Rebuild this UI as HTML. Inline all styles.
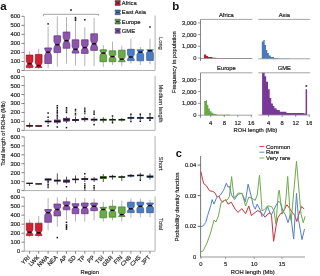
<!DOCTYPE html>
<html><head><meta charset="utf-8"><style>
html,body{margin:0;padding:0;background:#fff;}
svg{display:block;font-family:"Liberation Sans", sans-serif;will-change:transform;}
</style></head><body>
<svg width="312" height="276" viewBox="0 0 312 276">
<rect width="312" height="276" fill="#fff"/>
<text x="0.2" y="9.6" font-size="11.5" text-anchor="start" font-weight="bold" fill="#111" >a</text>
<line x1="24.3" y1="16.32" x2="24.3" y2="70.50" stroke="#a0a0a0" stroke-width="0.9"/>
<polyline points="24.3,70.50 155.1,70.50 155.1,15.52" fill="none" stroke="#a8a8a8" stroke-width="0.9"/>
<line x1="21.4" y1="70.50" x2="24.3" y2="70.50" stroke="#555" stroke-width="0.7"/>
<text x="20.2" y="72.50" font-size="5.8" text-anchor="end" font-weight="normal" fill="#262626" stroke="#262626" stroke-width="0.18" >0</text>
<line x1="21.4" y1="61.47" x2="24.3" y2="61.47" stroke="#555" stroke-width="0.7"/>
<text x="20.2" y="63.47" font-size="5.8" text-anchor="end" font-weight="normal" fill="#262626" stroke="#262626" stroke-width="0.18" >100</text>
<line x1="21.4" y1="52.44" x2="24.3" y2="52.44" stroke="#555" stroke-width="0.7"/>
<text x="20.2" y="54.44" font-size="5.8" text-anchor="end" font-weight="normal" fill="#262626" stroke="#262626" stroke-width="0.18" >200</text>
<line x1="21.4" y1="43.41" x2="24.3" y2="43.41" stroke="#555" stroke-width="0.7"/>
<text x="20.2" y="45.41" font-size="5.8" text-anchor="end" font-weight="normal" fill="#262626" stroke="#262626" stroke-width="0.18" >300</text>
<line x1="21.4" y1="34.38" x2="24.3" y2="34.38" stroke="#555" stroke-width="0.7"/>
<text x="20.2" y="36.38" font-size="5.8" text-anchor="end" font-weight="normal" fill="#262626" stroke="#262626" stroke-width="0.18" >400</text>
<line x1="21.4" y1="25.35" x2="24.3" y2="25.35" stroke="#555" stroke-width="0.7"/>
<text x="20.2" y="27.35" font-size="5.8" text-anchor="end" font-weight="normal" fill="#262626" stroke="#262626" stroke-width="0.18" >500</text>
<line x1="21.4" y1="16.32" x2="24.3" y2="16.32" stroke="#555" stroke-width="0.7"/>
<text x="20.2" y="18.32" font-size="5.8" text-anchor="end" font-weight="normal" fill="#262626" stroke="#262626" stroke-width="0.18" >600</text>
<text x="158.6" y="43.41" font-size="5.8" text-anchor="middle" font-weight="normal" fill="#444" stroke="#444" stroke-width="0.18" transform="rotate(90 158.6 43.41)">Long</text>
<line x1="24.3" y1="76.58" x2="24.3" y2="130.40" stroke="#a0a0a0" stroke-width="0.9"/>
<polyline points="24.3,130.40 155.1,130.40 155.1,75.78" fill="none" stroke="#a8a8a8" stroke-width="0.9"/>
<line x1="21.4" y1="130.40" x2="24.3" y2="130.40" stroke="#555" stroke-width="0.7"/>
<text x="20.2" y="132.40" font-size="5.8" text-anchor="end" font-weight="normal" fill="#262626" stroke="#262626" stroke-width="0.18" >0</text>
<line x1="21.4" y1="121.43" x2="24.3" y2="121.43" stroke="#555" stroke-width="0.7"/>
<text x="20.2" y="123.43" font-size="5.8" text-anchor="end" font-weight="normal" fill="#262626" stroke="#262626" stroke-width="0.18" >100</text>
<line x1="21.4" y1="112.46" x2="24.3" y2="112.46" stroke="#555" stroke-width="0.7"/>
<text x="20.2" y="114.46" font-size="5.8" text-anchor="end" font-weight="normal" fill="#262626" stroke="#262626" stroke-width="0.18" >200</text>
<line x1="21.4" y1="103.49" x2="24.3" y2="103.49" stroke="#555" stroke-width="0.7"/>
<text x="20.2" y="105.49" font-size="5.8" text-anchor="end" font-weight="normal" fill="#262626" stroke="#262626" stroke-width="0.18" >300</text>
<line x1="21.4" y1="94.52" x2="24.3" y2="94.52" stroke="#555" stroke-width="0.7"/>
<text x="20.2" y="96.52" font-size="5.8" text-anchor="end" font-weight="normal" fill="#262626" stroke="#262626" stroke-width="0.18" >400</text>
<line x1="21.4" y1="85.55" x2="24.3" y2="85.55" stroke="#555" stroke-width="0.7"/>
<text x="20.2" y="87.55" font-size="5.8" text-anchor="end" font-weight="normal" fill="#262626" stroke="#262626" stroke-width="0.18" >500</text>
<line x1="21.4" y1="76.58" x2="24.3" y2="76.58" stroke="#555" stroke-width="0.7"/>
<text x="20.2" y="78.58" font-size="5.8" text-anchor="end" font-weight="normal" fill="#262626" stroke="#262626" stroke-width="0.18" >600</text>
<text x="158.6" y="103.49" font-size="5.8" text-anchor="middle" font-weight="normal" fill="#444" stroke="#444" stroke-width="0.18" transform="rotate(90 158.6 103.49)">Medium length</text>
<line x1="24.3" y1="136.90" x2="24.3" y2="190.60" stroke="#a0a0a0" stroke-width="0.9"/>
<polyline points="24.3,190.60 155.1,190.60 155.1,136.10" fill="none" stroke="#a8a8a8" stroke-width="0.9"/>
<line x1="21.4" y1="190.60" x2="24.3" y2="190.60" stroke="#555" stroke-width="0.7"/>
<text x="20.2" y="192.60" font-size="5.8" text-anchor="end" font-weight="normal" fill="#262626" stroke="#262626" stroke-width="0.18" >0</text>
<line x1="21.4" y1="181.65" x2="24.3" y2="181.65" stroke="#555" stroke-width="0.7"/>
<text x="20.2" y="183.65" font-size="5.8" text-anchor="end" font-weight="normal" fill="#262626" stroke="#262626" stroke-width="0.18" >100</text>
<line x1="21.4" y1="172.70" x2="24.3" y2="172.70" stroke="#555" stroke-width="0.7"/>
<text x="20.2" y="174.70" font-size="5.8" text-anchor="end" font-weight="normal" fill="#262626" stroke="#262626" stroke-width="0.18" >200</text>
<line x1="21.4" y1="163.75" x2="24.3" y2="163.75" stroke="#555" stroke-width="0.7"/>
<text x="20.2" y="165.75" font-size="5.8" text-anchor="end" font-weight="normal" fill="#262626" stroke="#262626" stroke-width="0.18" >300</text>
<line x1="21.4" y1="154.80" x2="24.3" y2="154.80" stroke="#555" stroke-width="0.7"/>
<text x="20.2" y="156.80" font-size="5.8" text-anchor="end" font-weight="normal" fill="#262626" stroke="#262626" stroke-width="0.18" >400</text>
<line x1="21.4" y1="145.85" x2="24.3" y2="145.85" stroke="#555" stroke-width="0.7"/>
<text x="20.2" y="147.85" font-size="5.8" text-anchor="end" font-weight="normal" fill="#262626" stroke="#262626" stroke-width="0.18" >500</text>
<line x1="21.4" y1="136.90" x2="24.3" y2="136.90" stroke="#555" stroke-width="0.7"/>
<text x="20.2" y="138.90" font-size="5.8" text-anchor="end" font-weight="normal" fill="#262626" stroke="#262626" stroke-width="0.18" >600</text>
<text x="158.6" y="163.75" font-size="5.8" text-anchor="middle" font-weight="normal" fill="#444" stroke="#444" stroke-width="0.18" transform="rotate(90 158.6 163.75)">Short</text>
<line x1="24.3" y1="197.20" x2="24.3" y2="251.20" stroke="#a0a0a0" stroke-width="0.9"/>
<polyline points="24.3,251.20 155.1,251.20 155.1,196.40" fill="none" stroke="#a8a8a8" stroke-width="0.9"/>
<line x1="21.4" y1="251.20" x2="24.3" y2="251.20" stroke="#555" stroke-width="0.7"/>
<text x="20.2" y="253.20" font-size="5.8" text-anchor="end" font-weight="normal" fill="#262626" stroke="#262626" stroke-width="0.18" >0</text>
<line x1="21.4" y1="242.20" x2="24.3" y2="242.20" stroke="#555" stroke-width="0.7"/>
<text x="20.2" y="244.20" font-size="5.8" text-anchor="end" font-weight="normal" fill="#262626" stroke="#262626" stroke-width="0.18" >100</text>
<line x1="21.4" y1="233.20" x2="24.3" y2="233.20" stroke="#555" stroke-width="0.7"/>
<text x="20.2" y="235.20" font-size="5.8" text-anchor="end" font-weight="normal" fill="#262626" stroke="#262626" stroke-width="0.18" >200</text>
<line x1="21.4" y1="224.20" x2="24.3" y2="224.20" stroke="#555" stroke-width="0.7"/>
<text x="20.2" y="226.20" font-size="5.8" text-anchor="end" font-weight="normal" fill="#262626" stroke="#262626" stroke-width="0.18" >300</text>
<line x1="21.4" y1="215.20" x2="24.3" y2="215.20" stroke="#555" stroke-width="0.7"/>
<text x="20.2" y="217.20" font-size="5.8" text-anchor="end" font-weight="normal" fill="#262626" stroke="#262626" stroke-width="0.18" >400</text>
<line x1="21.4" y1="206.20" x2="24.3" y2="206.20" stroke="#555" stroke-width="0.7"/>
<text x="20.2" y="208.20" font-size="5.8" text-anchor="end" font-weight="normal" fill="#262626" stroke="#262626" stroke-width="0.18" >500</text>
<line x1="21.4" y1="197.20" x2="24.3" y2="197.20" stroke="#555" stroke-width="0.7"/>
<text x="20.2" y="199.20" font-size="5.8" text-anchor="end" font-weight="normal" fill="#262626" stroke="#262626" stroke-width="0.18" >600</text>
<text x="158.6" y="224.20" font-size="5.8" text-anchor="middle" font-weight="normal" fill="#444" stroke="#444" stroke-width="0.18" transform="rotate(90 158.6 224.20)">Total</text>
<line x1="29.60" y1="51.30" x2="29.60" y2="68.80" stroke="#b0b0b0" stroke-width="0.95"/>
<polygon points="26.25,55.10 32.95,55.10 32.95,61.20 31.48,63.70 32.95,66.20 32.95,67.60 26.25,67.60 26.25,66.20 27.72,63.70 26.25,61.20" fill="#d02230" stroke="#8e1624" stroke-width="0.7"/>
<line x1="27.72" y1="63.70" x2="31.48" y2="63.70" stroke="#140a14" stroke-width="1.5"/>
<line x1="38.70" y1="48.70" x2="38.70" y2="68.80" stroke="#b0b0b0" stroke-width="0.95"/>
<polygon points="35.35,54.40 42.05,54.40 42.05,62.96 40.58,65.60 42.05,67.60 42.05,67.60 35.35,67.60 35.35,67.60 36.82,65.60 35.35,62.96" fill="#d02230" stroke="#8e1624" stroke-width="0.7"/>
<line x1="36.82" y1="65.60" x2="40.58" y2="65.60" stroke="#140a14" stroke-width="1.5"/>
<line x1="48.10" y1="26.60" x2="48.10" y2="68.20" stroke="#b0b0b0" stroke-width="0.95"/>
<polygon points="44.75,47.90 51.45,47.90 51.45,49.08 49.98,52.20 51.45,55.32 51.45,63.50 44.75,63.50 44.75,55.32 46.22,52.20 44.75,49.08" fill="#8c56ad" stroke="#5e327e" stroke-width="0.7"/>
<line x1="46.22" y1="52.20" x2="49.98" y2="52.20" stroke="#140a14" stroke-width="1.5"/>
<rect x="47.35" y="23.15" width="1.5" height="1.5" fill="#111"/>
<line x1="57.30" y1="16.30" x2="57.30" y2="66.60" stroke="#b0b0b0" stroke-width="0.95"/>
<polygon points="53.95,35.80 60.65,35.80 60.65,41.34 59.18,44.70 60.65,48.06 60.65,52.60 53.95,52.60 53.95,48.06 55.42,44.70 53.95,41.34" fill="#8c56ad" stroke="#5e327e" stroke-width="0.7"/>
<line x1="55.42" y1="44.70" x2="59.18" y2="44.70" stroke="#140a14" stroke-width="1.5"/>
<line x1="66.50" y1="17.00" x2="66.50" y2="63.60" stroke="#b0b0b0" stroke-width="0.95"/>
<polygon points="63.15,32.00 69.85,32.00 69.85,37.44 68.38,40.70 69.85,43.96 69.85,48.30 63.15,48.30 63.15,43.96 64.62,40.70 63.15,37.44" fill="#8c56ad" stroke="#5e327e" stroke-width="0.7"/>
<line x1="64.62" y1="40.70" x2="68.38" y2="40.70" stroke="#140a14" stroke-width="1.5"/>
<line x1="75.50" y1="22.00" x2="75.50" y2="65.60" stroke="#b0b0b0" stroke-width="0.95"/>
<polygon points="72.15,39.80 78.85,39.80 78.85,46.64 77.38,49.30 78.85,51.96 78.85,53.10 72.15,53.10 72.15,51.96 73.62,49.30 72.15,46.64" fill="#8c56ad" stroke="#5e327e" stroke-width="0.7"/>
<line x1="73.62" y1="49.30" x2="77.38" y2="49.30" stroke="#140a14" stroke-width="1.5"/>
<rect x="74.75" y="16.85" width="1.5" height="1.5" fill="#111"/>
<rect x="74.75" y="18.25" width="1.5" height="1.5" fill="#111"/>
<rect x="74.75" y="19.65" width="1.5" height="1.5" fill="#111"/>
<line x1="84.80" y1="27.20" x2="84.80" y2="66.20" stroke="#b0b0b0" stroke-width="0.95"/>
<polygon points="81.45,39.80 88.15,39.80 88.15,44.88 86.68,47.60 88.15,50.32 88.15,53.40 81.45,53.40 81.45,50.32 82.92,47.60 81.45,44.88" fill="#8c56ad" stroke="#5e327e" stroke-width="0.7"/>
<line x1="82.92" y1="47.60" x2="86.68" y2="47.60" stroke="#140a14" stroke-width="1.5"/>
<rect x="84.05" y="19.05" width="1.5" height="1.5" fill="#111"/>
<line x1="94.10" y1="18.00" x2="94.10" y2="66.20" stroke="#b0b0b0" stroke-width="0.95"/>
<polygon points="90.75,33.80 97.45,33.80 97.45,40.48 95.98,43.80 97.45,47.12 97.45,50.40 90.75,50.40 90.75,47.12 92.22,43.80 90.75,40.48" fill="#8c56ad" stroke="#5e327e" stroke-width="0.7"/>
<line x1="92.22" y1="43.80" x2="95.98" y2="43.80" stroke="#140a14" stroke-width="1.5"/>
<line x1="103.30" y1="45.00" x2="103.30" y2="66.80" stroke="#b0b0b0" stroke-width="0.95"/>
<polygon points="99.95,49.80 106.65,49.80 106.65,50.72 105.18,53.10 106.65,55.48 106.65,61.70 99.95,61.70 99.95,55.48 101.42,53.10 99.95,50.72" fill="#6cab47" stroke="#437a2a" stroke-width="0.7"/>
<line x1="101.42" y1="53.10" x2="105.18" y2="53.10" stroke="#140a14" stroke-width="1.5"/>
<line x1="112.50" y1="41.60" x2="112.50" y2="64.90" stroke="#b0b0b0" stroke-width="0.95"/>
<polygon points="109.15,50.80 115.85,50.80 115.85,54.42 114.38,56.60 115.85,58.78 115.85,61.70 109.15,61.70 109.15,58.78 110.62,56.60 109.15,54.42" fill="#6cab47" stroke="#437a2a" stroke-width="0.7"/>
<line x1="110.62" y1="56.60" x2="114.38" y2="56.60" stroke="#140a14" stroke-width="1.5"/>
<line x1="121.80" y1="45.70" x2="121.80" y2="66.20" stroke="#b0b0b0" stroke-width="0.95"/>
<polygon points="118.45,50.20 125.15,50.20 125.15,56.90 123.68,59.20 125.15,61.50 125.15,61.70 118.45,61.70 118.45,61.50 119.92,59.20 118.45,56.90" fill="#6cab47" stroke="#437a2a" stroke-width="0.7"/>
<line x1="119.92" y1="59.20" x2="123.68" y2="59.20" stroke="#140a14" stroke-width="1.5"/>
<line x1="130.90" y1="38.60" x2="130.90" y2="63.60" stroke="#b0b0b0" stroke-width="0.95"/>
<polygon points="127.55,49.30 134.25,49.30 134.25,54.74 132.78,57.00 134.25,59.26 134.25,60.60 127.55,60.60 127.55,59.26 129.02,57.00 127.55,54.74" fill="#4c7dc4" stroke="#2e5690" stroke-width="0.7"/>
<line x1="129.02" y1="57.00" x2="132.78" y2="57.00" stroke="#140a14" stroke-width="1.5"/>
<line x1="140.30" y1="47.00" x2="140.30" y2="64.90" stroke="#b0b0b0" stroke-width="0.95"/>
<polygon points="136.95,49.80 143.65,49.80 143.65,49.90 142.18,52.10 143.65,54.30 143.65,60.80 136.95,60.80 136.95,54.30 138.42,52.10 136.95,49.90" fill="#4c7dc4" stroke="#2e5690" stroke-width="0.7"/>
<line x1="138.42" y1="52.10" x2="142.18" y2="52.10" stroke="#140a14" stroke-width="1.5"/>
<line x1="150.00" y1="38.60" x2="150.00" y2="64.30" stroke="#b0b0b0" stroke-width="0.95"/>
<polygon points="146.65,49.80 153.35,49.80 153.35,49.80 151.88,50.80 153.35,52.92 153.35,60.40 146.65,60.40 146.65,52.92 148.12,50.80 146.65,49.80" fill="#4c7dc4" stroke="#2e5690" stroke-width="0.7"/>
<line x1="148.12" y1="50.80" x2="151.88" y2="50.80" stroke="#140a14" stroke-width="1.5"/>
<rect x="149.25" y="26.25" width="1.5" height="1.5" fill="#111"/>
<line x1="29.60" y1="122.70" x2="29.60" y2="127.60" stroke="#2a2a2a" stroke-width="0.8"/>
<rect x="26.20" y="125.10" width="6.80" height="1.50" fill="#80151d"/>
<line x1="26.50" y1="125.80" x2="32.70" y2="125.80" stroke="#111" stroke-width="1.1"/>
<line x1="38.70" y1="125.40" x2="38.70" y2="126.60" stroke="#2a2a2a" stroke-width="0.8"/>
<rect x="35.30" y="125.30" width="6.80" height="1.30" fill="#80151d"/>
<line x1="35.60" y1="126.00" x2="41.80" y2="126.00" stroke="#111" stroke-width="1.1"/>
<line x1="48.10" y1="119.00" x2="48.10" y2="124.00" stroke="#2a2a2a" stroke-width="0.8"/>
<rect x="44.70" y="120.60" width="6.80" height="1.70" fill="#56356b"/>
<line x1="45.00" y1="121.50" x2="51.20" y2="121.50" stroke="#111" stroke-width="1.1"/>
<rect x="47.35" y="112.25" width="1.5" height="1.5" fill="#111"/>
<rect x="47.35" y="116.45" width="1.5" height="1.5" fill="#111"/>
<rect x="47.35" y="125.05" width="1.5" height="1.5" fill="#111"/>
<line x1="57.30" y1="119.00" x2="57.30" y2="124.00" stroke="#2a2a2a" stroke-width="0.8"/>
<rect x="53.90" y="119.60" width="6.80" height="3.10" fill="#56356b"/>
<line x1="54.20" y1="121.30" x2="60.40" y2="121.30" stroke="#111" stroke-width="1.1"/>
<rect x="56.55" y="126.25" width="1.5" height="1.5" fill="#111"/>
<line x1="57.30" y1="105.00" x2="57.30" y2="119.00" stroke="#151515" stroke-width="1.5" stroke-dasharray="1.3 0.35"/>
<line x1="66.50" y1="116.50" x2="66.50" y2="123.00" stroke="#2a2a2a" stroke-width="0.8"/>
<rect x="63.10" y="117.90" width="6.80" height="3.60" fill="#56356b"/>
<line x1="63.40" y1="119.80" x2="69.60" y2="119.80" stroke="#111" stroke-width="1.1"/>
<rect x="65.75" y="126.85" width="1.5" height="1.5" fill="#111"/>
<line x1="66.50" y1="106.90" x2="66.50" y2="113.60" stroke="#151515" stroke-width="1.5" stroke-dasharray="1.3 0.35"/>
<line x1="75.50" y1="116.50" x2="75.50" y2="122.50" stroke="#2a2a2a" stroke-width="0.8"/>
<rect x="72.10" y="119.00" width="6.80" height="2.00" fill="#56356b"/>
<line x1="72.40" y1="120.00" x2="78.60" y2="120.00" stroke="#111" stroke-width="1.1"/>
<line x1="75.50" y1="108.70" x2="75.50" y2="111.50" stroke="#151515" stroke-width="1.5" stroke-dasharray="1.3 0.35"/>
<line x1="75.50" y1="112.70" x2="75.50" y2="115.40" stroke="#151515" stroke-width="1.5" stroke-dasharray="1.3 0.35"/>
<line x1="84.80" y1="116.50" x2="84.80" y2="121.80" stroke="#2a2a2a" stroke-width="0.8"/>
<rect x="81.40" y="118.00" width="6.80" height="2.20" fill="#56356b"/>
<line x1="81.70" y1="119.00" x2="87.90" y2="119.00" stroke="#111" stroke-width="1.1"/>
<line x1="84.80" y1="107.50" x2="84.80" y2="114.20" stroke="#151515" stroke-width="1.5" stroke-dasharray="1.3 0.35"/>
<line x1="94.10" y1="117.00" x2="94.10" y2="122.00" stroke="#2a2a2a" stroke-width="0.8"/>
<rect x="90.70" y="118.70" width="6.80" height="2.00" fill="#56356b"/>
<line x1="91.00" y1="119.70" x2="97.20" y2="119.70" stroke="#111" stroke-width="1.1"/>
<rect x="93.35" y="123.85" width="1.5" height="1.5" fill="#111"/>
<line x1="94.10" y1="110.50" x2="94.10" y2="115.40" stroke="#151515" stroke-width="1.5" stroke-dasharray="1.3 0.35"/>
<line x1="103.30" y1="117.20" x2="103.30" y2="122.70" stroke="#2a2a2a" stroke-width="0.8"/>
<rect x="99.90" y="118.80" width="6.80" height="2.00" fill="#426a2c"/>
<line x1="100.20" y1="119.70" x2="106.40" y2="119.70" stroke="#111" stroke-width="1.1"/>
<line x1="112.50" y1="117.50" x2="112.50" y2="122.00" stroke="#2a2a2a" stroke-width="0.8"/>
<rect x="109.10" y="118.90" width="6.80" height="1.70" fill="#426a2c"/>
<line x1="109.40" y1="119.70" x2="115.60" y2="119.70" stroke="#111" stroke-width="1.1"/>
<rect x="111.75" y="115.25" width="1.5" height="1.5" fill="#111"/>
<rect x="111.75" y="121.95" width="1.5" height="1.5" fill="#111"/>
<line x1="121.80" y1="118.00" x2="121.80" y2="121.50" stroke="#2a2a2a" stroke-width="0.8"/>
<rect x="118.40" y="118.90" width="6.80" height="1.70" fill="#426a2c"/>
<line x1="118.70" y1="119.70" x2="124.90" y2="119.70" stroke="#111" stroke-width="1.1"/>
<line x1="130.90" y1="115.00" x2="130.90" y2="120.50" stroke="#2a2a2a" stroke-width="0.8"/>
<rect x="127.50" y="117.00" width="6.80" height="1.80" fill="#2f4d79"/>
<line x1="127.80" y1="117.90" x2="134.00" y2="117.90" stroke="#111" stroke-width="1.1"/>
<rect x="130.15" y="113.45" width="1.5" height="1.5" fill="#111"/>
<rect x="130.15" y="120.75" width="1.5" height="1.5" fill="#111"/>
<line x1="140.30" y1="115.00" x2="140.30" y2="120.50" stroke="#2a2a2a" stroke-width="0.8"/>
<rect x="136.90" y="117.00" width="6.80" height="1.80" fill="#2f4d79"/>
<line x1="137.20" y1="117.90" x2="143.40" y2="117.90" stroke="#111" stroke-width="1.1"/>
<rect x="139.55" y="113.45" width="1.5" height="1.5" fill="#111"/>
<rect x="139.55" y="120.55" width="1.5" height="1.5" fill="#111"/>
<line x1="150.00" y1="115.00" x2="150.00" y2="120.00" stroke="#2a2a2a" stroke-width="0.8"/>
<rect x="146.60" y="117.00" width="6.80" height="1.80" fill="#2f4d79"/>
<line x1="146.90" y1="117.90" x2="153.10" y2="117.90" stroke="#111" stroke-width="1.1"/>
<rect x="149.25" y="113.25" width="1.5" height="1.5" fill="#111"/>
<rect x="149.25" y="119.55" width="1.5" height="1.5" fill="#111"/>
<line x1="29.60" y1="183.30" x2="29.60" y2="186.00" stroke="#2a2a2a" stroke-width="0.8"/>
<rect x="26.20" y="182.80" width="6.80" height="1.00" fill="#80151d"/>
<line x1="26.50" y1="183.30" x2="32.70" y2="183.30" stroke="#111" stroke-width="1.1"/>
<line x1="38.70" y1="183.90" x2="38.70" y2="184.40" stroke="#2a2a2a" stroke-width="0.8"/>
<rect x="35.30" y="183.40" width="6.80" height="1.00" fill="#80151d"/>
<line x1="35.60" y1="183.90" x2="41.80" y2="183.90" stroke="#111" stroke-width="1.1"/>
<line x1="48.10" y1="179.40" x2="48.10" y2="180.60" stroke="#2a2a2a" stroke-width="0.8"/>
<rect x="44.70" y="178.40" width="6.80" height="2.20" fill="#56356b"/>
<line x1="45.00" y1="179.40" x2="51.20" y2="179.40" stroke="#111" stroke-width="1.1"/>
<line x1="48.10" y1="180.60" x2="48.10" y2="188.20" stroke="#151515" stroke-width="1.5" stroke-dasharray="1.3 0.35"/>
<line x1="57.30" y1="173.50" x2="57.30" y2="184.50" stroke="#2a2a2a" stroke-width="0.8"/>
<rect x="53.90" y="179.60" width="6.80" height="2.00" fill="#56356b"/>
<line x1="54.20" y1="180.60" x2="60.40" y2="180.60" stroke="#111" stroke-width="1.1"/>
<line x1="66.50" y1="176.60" x2="66.50" y2="183.50" stroke="#2a2a2a" stroke-width="0.8"/>
<rect x="63.10" y="179.60" width="6.80" height="3.10" fill="#56356b"/>
<line x1="63.40" y1="181.00" x2="69.60" y2="181.00" stroke="#111" stroke-width="1.1"/>
<rect x="65.75" y="185.95" width="1.5" height="1.5" fill="#111"/>
<line x1="75.50" y1="175.40" x2="75.50" y2="183.30" stroke="#2a2a2a" stroke-width="0.8"/>
<rect x="72.10" y="178.60" width="6.80" height="1.60" fill="#56356b"/>
<line x1="72.40" y1="179.40" x2="78.60" y2="179.40" stroke="#111" stroke-width="1.1"/>
<line x1="84.80" y1="176.00" x2="84.80" y2="182.00" stroke="#2a2a2a" stroke-width="0.8"/>
<rect x="81.40" y="178.10" width="6.80" height="1.90" fill="#56356b"/>
<line x1="81.70" y1="179.00" x2="87.90" y2="179.00" stroke="#111" stroke-width="1.1"/>
<rect x="84.05" y="173.05" width="1.5" height="1.5" fill="#111"/>
<line x1="84.80" y1="183.30" x2="84.80" y2="190.40" stroke="#151515" stroke-width="1.5" stroke-dasharray="1.3 0.35"/>
<line x1="94.10" y1="177.00" x2="94.10" y2="182.00" stroke="#2a2a2a" stroke-width="0.8"/>
<rect x="90.70" y="178.50" width="6.80" height="1.80" fill="#56356b"/>
<line x1="91.00" y1="179.40" x2="97.20" y2="179.40" stroke="#111" stroke-width="1.1"/>
<line x1="94.10" y1="185.00" x2="94.10" y2="190.40" stroke="#151515" stroke-width="1.5" stroke-dasharray="1.3 0.35"/>
<line x1="103.30" y1="174.10" x2="103.30" y2="182.00" stroke="#2a2a2a" stroke-width="0.8"/>
<rect x="99.90" y="176.00" width="6.80" height="3.00" fill="#426a2c"/>
<line x1="100.20" y1="177.50" x2="106.40" y2="177.50" stroke="#111" stroke-width="1.1"/>
<line x1="112.50" y1="174.80" x2="112.50" y2="179.60" stroke="#2a2a2a" stroke-width="0.8"/>
<rect x="109.10" y="175.80" width="6.80" height="1.60" fill="#426a2c"/>
<line x1="109.40" y1="176.60" x2="115.60" y2="176.60" stroke="#111" stroke-width="1.1"/>
<line x1="121.80" y1="175.40" x2="121.80" y2="180.90" stroke="#2a2a2a" stroke-width="0.8"/>
<rect x="118.40" y="176.20" width="6.80" height="1.60" fill="#426a2c"/>
<line x1="118.70" y1="177.00" x2="124.90" y2="177.00" stroke="#111" stroke-width="1.1"/>
<line x1="130.90" y1="174.00" x2="130.90" y2="177.50" stroke="#2a2a2a" stroke-width="0.8"/>
<rect x="127.50" y="174.80" width="6.80" height="1.80" fill="#2f4d79"/>
<line x1="127.80" y1="175.70" x2="134.00" y2="175.70" stroke="#111" stroke-width="1.1"/>
<line x1="140.30" y1="172.90" x2="140.30" y2="179.50" stroke="#2a2a2a" stroke-width="0.8"/>
<rect x="136.90" y="174.60" width="6.80" height="1.60" fill="#2f4d79"/>
<line x1="137.20" y1="175.40" x2="143.40" y2="175.40" stroke="#111" stroke-width="1.1"/>
<rect x="139.55" y="179.45" width="1.5" height="1.5" fill="#111"/>
<line x1="150.00" y1="173.50" x2="150.00" y2="179.60" stroke="#2a2a2a" stroke-width="0.8"/>
<rect x="146.60" y="175.40" width="6.80" height="2.40" fill="#2f4d79"/>
<line x1="146.90" y1="176.60" x2="153.10" y2="176.60" stroke="#111" stroke-width="1.1"/>
<line x1="29.60" y1="219.70" x2="29.60" y2="237.30" stroke="#b0b0b0" stroke-width="0.95"/>
<polygon points="26.25,223.20 32.95,223.20 32.95,229.72 31.48,232.20 32.95,234.68 32.95,235.60 26.25,235.60 26.25,234.68 27.72,232.20 26.25,229.72" fill="#d02230" stroke="#8e1624" stroke-width="0.7"/>
<line x1="27.72" y1="232.20" x2="31.48" y2="232.20" stroke="#140a14" stroke-width="1.5"/>
<line x1="38.70" y1="215.90" x2="38.70" y2="237.30" stroke="#b0b0b0" stroke-width="0.95"/>
<polygon points="35.35,223.20 42.05,223.20 42.05,230.32 40.58,232.80 42.05,235.28 42.05,235.60 35.35,235.60 35.35,235.28 36.82,232.80 35.35,230.32" fill="#d02230" stroke="#8e1624" stroke-width="0.7"/>
<line x1="36.82" y1="232.80" x2="40.58" y2="232.80" stroke="#140a14" stroke-width="1.5"/>
<line x1="48.10" y1="198.00" x2="48.10" y2="230.30" stroke="#b0b0b0" stroke-width="0.95"/>
<polygon points="44.75,209.50 51.45,209.50 51.45,210.14 49.98,212.70 51.45,215.26 51.45,222.30 44.75,222.30 44.75,215.26 46.22,212.70 44.75,210.14" fill="#8c56ad" stroke="#5e327e" stroke-width="0.7"/>
<line x1="46.22" y1="212.70" x2="49.98" y2="212.70" stroke="#140a14" stroke-width="1.5"/>
<line x1="57.30" y1="197.30" x2="57.30" y2="226.80" stroke="#b0b0b0" stroke-width="0.95"/>
<polygon points="53.95,204.00 60.65,204.00 60.65,207.12 59.18,209.50 60.65,211.88 60.65,215.90 53.95,215.90 53.95,211.88 55.42,209.50 53.95,207.12" fill="#8c56ad" stroke="#5e327e" stroke-width="0.7"/>
<line x1="55.42" y1="209.50" x2="59.18" y2="209.50" stroke="#140a14" stroke-width="1.5"/>
<rect x="56.55" y="236.85" width="1.5" height="1.5" fill="#111"/>
<line x1="66.50" y1="197.30" x2="66.50" y2="219.70" stroke="#b0b0b0" stroke-width="0.95"/>
<polygon points="63.15,201.80 69.85,201.80 69.85,203.60 68.38,205.60 69.85,207.60 69.85,209.80 63.15,209.80 63.15,207.60 64.62,205.60 63.15,203.60" fill="#8c56ad" stroke="#5e327e" stroke-width="0.7"/>
<line x1="64.62" y1="205.60" x2="68.38" y2="205.60" stroke="#140a14" stroke-width="1.5"/>
<rect x="65.75" y="221.55" width="1.5" height="1.5" fill="#111"/>
<rect x="65.75" y="224.15" width="1.5" height="1.5" fill="#111"/>
<rect x="65.75" y="225.55" width="1.5" height="1.5" fill="#111"/>
<rect x="65.75" y="226.95" width="1.5" height="1.5" fill="#111"/>
<rect x="65.75" y="228.35" width="1.5" height="1.5" fill="#111"/>
<line x1="75.50" y1="198.00" x2="75.50" y2="221.60" stroke="#b0b0b0" stroke-width="0.95"/>
<polygon points="72.15,203.70 78.85,203.70 78.85,205.30 77.38,207.30 78.85,209.30 78.85,213.70 72.15,213.70 72.15,209.30 73.62,207.30 72.15,205.30" fill="#8c56ad" stroke="#5e327e" stroke-width="0.7"/>
<line x1="73.62" y1="207.30" x2="77.38" y2="207.30" stroke="#140a14" stroke-width="1.5"/>
<line x1="84.80" y1="198.00" x2="84.80" y2="221.60" stroke="#b0b0b0" stroke-width="0.95"/>
<polygon points="81.45,203.00 88.15,203.00 88.15,205.36 86.68,207.50 88.15,209.64 88.15,213.70 81.45,213.70 81.45,209.64 82.92,207.50 81.45,205.36" fill="#8c56ad" stroke="#5e327e" stroke-width="0.7"/>
<line x1="82.92" y1="207.50" x2="86.68" y2="207.50" stroke="#140a14" stroke-width="1.5"/>
<line x1="94.10" y1="198.50" x2="94.10" y2="220.40" stroke="#b0b0b0" stroke-width="0.95"/>
<polygon points="90.75,203.00 97.45,203.00 97.45,204.30 95.98,206.30 97.45,208.30 97.45,210.70 90.75,210.70 90.75,208.30 92.22,206.30 90.75,204.30" fill="#8c56ad" stroke="#5e327e" stroke-width="0.7"/>
<line x1="92.22" y1="206.30" x2="95.98" y2="206.30" stroke="#140a14" stroke-width="1.5"/>
<line x1="103.30" y1="202.20" x2="103.30" y2="221.60" stroke="#b0b0b0" stroke-width="0.95"/>
<polygon points="99.95,207.30 106.65,207.30 106.65,207.40 105.18,209.50 106.65,211.60 106.65,217.80 99.95,217.80 99.95,211.60 101.42,209.50 99.95,207.40" fill="#6cab47" stroke="#437a2a" stroke-width="0.7"/>
<line x1="101.42" y1="209.50" x2="105.18" y2="209.50" stroke="#140a14" stroke-width="1.5"/>
<line x1="112.50" y1="199.80" x2="112.50" y2="220.40" stroke="#b0b0b0" stroke-width="0.95"/>
<polygon points="109.15,206.30 115.85,206.30 115.85,208.22 114.38,210.40 115.85,212.58 115.85,217.20 109.15,217.20 109.15,212.58 110.62,210.40 109.15,208.22" fill="#6cab47" stroke="#437a2a" stroke-width="0.7"/>
<line x1="110.62" y1="210.40" x2="114.38" y2="210.40" stroke="#140a14" stroke-width="1.5"/>
<line x1="121.80" y1="200.50" x2="121.80" y2="221.60" stroke="#b0b0b0" stroke-width="0.95"/>
<polygon points="118.45,206.90 125.15,206.90 125.15,212.60 123.68,214.60 125.15,216.50 125.15,216.50 118.45,216.50 118.45,216.50 119.92,214.60 118.45,212.60" fill="#6cab47" stroke="#437a2a" stroke-width="0.7"/>
<line x1="119.92" y1="214.60" x2="123.68" y2="214.60" stroke="#140a14" stroke-width="1.5"/>
<line x1="130.90" y1="198.60" x2="130.90" y2="217.50" stroke="#b0b0b0" stroke-width="0.95"/>
<polygon points="127.55,202.20 134.25,202.20 134.25,206.72 132.78,208.80 134.25,210.88 134.25,212.60 127.55,212.60 127.55,210.88 129.02,208.80 127.55,206.72" fill="#4c7dc4" stroke="#2e5690" stroke-width="0.7"/>
<line x1="129.02" y1="208.80" x2="132.78" y2="208.80" stroke="#140a14" stroke-width="1.5"/>
<line x1="140.30" y1="198.60" x2="140.30" y2="217.20" stroke="#b0b0b0" stroke-width="0.95"/>
<polygon points="136.95,202.20 143.65,202.20 143.65,204.20 142.18,206.30 143.65,208.40 143.65,212.70 136.95,212.70 136.95,208.40 138.42,206.30 136.95,204.20" fill="#4c7dc4" stroke="#2e5690" stroke-width="0.7"/>
<line x1="138.42" y1="206.30" x2="142.18" y2="206.30" stroke="#140a14" stroke-width="1.5"/>
<line x1="150.00" y1="199.80" x2="150.00" y2="217.20" stroke="#b0b0b0" stroke-width="0.95"/>
<polygon points="146.65,203.00 153.35,203.00 153.35,203.60 151.88,205.60 153.35,207.60 153.35,212.70 146.65,212.70 146.65,207.60 148.12,205.60 146.65,203.60" fill="#4c7dc4" stroke="#2e5690" stroke-width="0.7"/>
<line x1="148.12" y1="205.60" x2="151.88" y2="205.60" stroke="#140a14" stroke-width="1.5"/>
<line x1="29.60" y1="251.2" x2="29.60" y2="253.8" stroke="#555" stroke-width="0.7"/>
<text x="30.40" y="257.80" font-size="5.8" text-anchor="end" font-weight="normal" fill="#262626" stroke="#262626" stroke-width="0.18" transform="rotate(-45 30.40 257.80)">YRI</text>
<line x1="38.70" y1="251.2" x2="38.70" y2="253.8" stroke="#555" stroke-width="0.7"/>
<text x="39.50" y="257.80" font-size="5.8" text-anchor="end" font-weight="normal" fill="#262626" stroke="#262626" stroke-width="0.18" transform="rotate(-45 39.50 257.80)">LWK</text>
<line x1="48.10" y1="251.2" x2="48.10" y2="253.8" stroke="#555" stroke-width="0.7"/>
<text x="48.90" y="257.80" font-size="5.8" text-anchor="end" font-weight="normal" fill="#262626" stroke="#262626" stroke-width="0.18" transform="rotate(-45 48.90 257.80)">NWA</text>
<line x1="57.30" y1="251.2" x2="57.30" y2="253.8" stroke="#555" stroke-width="0.7"/>
<text x="58.10" y="257.80" font-size="5.8" text-anchor="end" font-weight="normal" fill="#262626" stroke="#262626" stroke-width="0.18" transform="rotate(-45 58.10 257.80)">NEA</text>
<line x1="66.50" y1="251.2" x2="66.50" y2="253.8" stroke="#555" stroke-width="0.7"/>
<text x="67.30" y="257.80" font-size="5.8" text-anchor="end" font-weight="normal" fill="#262626" stroke="#262626" stroke-width="0.18" transform="rotate(-45 67.30 257.80)">AP</text>
<line x1="75.50" y1="251.2" x2="75.50" y2="253.8" stroke="#555" stroke-width="0.7"/>
<text x="76.30" y="257.80" font-size="5.8" text-anchor="end" font-weight="normal" fill="#262626" stroke="#262626" stroke-width="0.18" transform="rotate(-45 76.30 257.80)">SD</text>
<line x1="84.80" y1="251.2" x2="84.80" y2="253.8" stroke="#555" stroke-width="0.7"/>
<text x="85.60" y="257.80" font-size="5.8" text-anchor="end" font-weight="normal" fill="#262626" stroke="#262626" stroke-width="0.18" transform="rotate(-45 85.60 257.80)">TP</text>
<line x1="94.10" y1="251.2" x2="94.10" y2="253.8" stroke="#555" stroke-width="0.7"/>
<text x="94.90" y="257.80" font-size="5.8" text-anchor="end" font-weight="normal" fill="#262626" stroke="#262626" stroke-width="0.18" transform="rotate(-45 94.90 257.80)">PP</text>
<line x1="103.30" y1="251.2" x2="103.30" y2="253.8" stroke="#555" stroke-width="0.7"/>
<text x="104.10" y="257.80" font-size="5.8" text-anchor="end" font-weight="normal" fill="#262626" stroke="#262626" stroke-width="0.18" transform="rotate(-45 104.10 257.80)">TSI</text>
<line x1="112.50" y1="251.2" x2="112.50" y2="253.8" stroke="#555" stroke-width="0.7"/>
<text x="113.30" y="257.80" font-size="5.8" text-anchor="end" font-weight="normal" fill="#262626" stroke="#262626" stroke-width="0.18" transform="rotate(-45 113.30 257.80)">GBR</text>
<line x1="121.80" y1="251.2" x2="121.80" y2="253.8" stroke="#555" stroke-width="0.7"/>
<text x="122.60" y="257.80" font-size="5.8" text-anchor="end" font-weight="normal" fill="#262626" stroke="#262626" stroke-width="0.18" transform="rotate(-45 122.60 257.80)">FIN</text>
<line x1="130.90" y1="251.2" x2="130.90" y2="253.8" stroke="#555" stroke-width="0.7"/>
<text x="131.70" y="257.80" font-size="5.8" text-anchor="end" font-weight="normal" fill="#262626" stroke="#262626" stroke-width="0.18" transform="rotate(-45 131.70 257.80)">CHB</text>
<line x1="140.30" y1="251.2" x2="140.30" y2="253.8" stroke="#555" stroke-width="0.7"/>
<text x="141.10" y="257.80" font-size="5.8" text-anchor="end" font-weight="normal" fill="#262626" stroke="#262626" stroke-width="0.18" transform="rotate(-45 141.10 257.80)">CHS</text>
<line x1="150.00" y1="251.2" x2="150.00" y2="253.8" stroke="#555" stroke-width="0.7"/>
<text x="150.80" y="257.80" font-size="5.8" text-anchor="end" font-weight="normal" fill="#262626" stroke="#262626" stroke-width="0.18" transform="rotate(-45 150.80 257.80)">JPT</text>
<text x="89.8" y="273.8" font-size="5.8" text-anchor="middle" font-weight="normal" fill="#262626" stroke="#262626" stroke-width="0.18" >Region</text>
<text x="4.9" y="133.5" font-size="5.6" text-anchor="middle" font-weight="normal" fill="#262626" stroke="#262626" stroke-width="0.18" transform="rotate(-90 4.9 133.5)">Total length of ROHs (Mb)</text>
<polyline points="43.4,16.2 43.4,14.3 98.6,14.3 98.6,15.8" fill="none" stroke="#666" stroke-width="0.6"/>
<text x="71.1" y="13.2" font-size="5.5" text-anchor="middle" font-weight="normal" fill="#111" stroke="#111" stroke-width="0.18" >*</text>
<polygon points="115.10,0.60 120.30,0.60 120.30,2.20 119.50,3.00 120.30,3.80 120.30,5.40 115.10,5.40 115.10,3.80 115.90,3.00 115.10,2.20" fill="#a02c3c" stroke="#5a1420" stroke-width="0.5"/>
<line x1="115.90" y1="3.00" x2="119.50" y2="3.00" stroke="#222" stroke-width="0.8"/>
<text x="121.8" y="5.10" font-size="5.8" text-anchor="start" font-weight="normal" fill="#1a1a1a" stroke="#1a1a1a" stroke-width="0.18" >Africa</text>
<polygon points="115.10,9.90 120.30,9.90 120.30,11.50 119.50,12.30 120.30,13.10 120.30,14.70 115.10,14.70 115.10,13.10 115.90,12.30 115.10,11.50" fill="#4a70a6" stroke="#263e66" stroke-width="0.5"/>
<line x1="115.90" y1="12.30" x2="119.50" y2="12.30" stroke="#222" stroke-width="0.8"/>
<text x="121.8" y="14.40" font-size="5.8" text-anchor="start" font-weight="normal" fill="#1a1a1a" stroke="#1a1a1a" stroke-width="0.18" >East Asia</text>
<polygon points="115.10,19.20 120.30,19.20 120.30,20.80 119.50,21.60 120.30,22.40 120.30,24.00 115.10,24.00 115.10,22.40 115.90,21.60 115.10,20.80" fill="#5c8e4c" stroke="#30502a" stroke-width="0.5"/>
<line x1="115.90" y1="21.60" x2="119.50" y2="21.60" stroke="#222" stroke-width="0.8"/>
<text x="121.8" y="23.70" font-size="5.8" text-anchor="start" font-weight="normal" fill="#1a1a1a" stroke="#1a1a1a" stroke-width="0.18" >Europe</text>
<polygon points="115.10,28.50 120.30,28.50 120.30,30.10 119.50,30.90 120.30,31.70 120.30,33.30 115.10,33.30 115.10,31.70 115.90,30.90 115.10,30.10" fill="#724e98" stroke="#3e2860" stroke-width="0.5"/>
<line x1="115.90" y1="30.90" x2="119.50" y2="30.90" stroke="#222" stroke-width="0.8"/>
<text x="121.8" y="33.00" font-size="5.8" text-anchor="start" font-weight="normal" fill="#1a1a1a" stroke="#1a1a1a" stroke-width="0.18" >GME</text>
<text x="172.3" y="10.0" font-size="11.5" text-anchor="start" font-weight="bold" fill="#111" >b</text>
<text x="175.8" y="62.2" font-size="5.8" text-anchor="middle" font-weight="normal" fill="#262626" stroke="#262626" stroke-width="0.18" transform="rotate(-90 175.8 62.2)">Frequency in population</text>
<text x="255.4" y="132.0" font-size="5.8" text-anchor="middle" font-weight="normal" fill="#262626" stroke="#262626" stroke-width="0.18" >ROH length (Mb)</text>
<text x="226.40" y="16.80" font-size="5.8" text-anchor="middle" font-weight="normal" fill="#1a1a1a" stroke="#1a1a1a" stroke-width="0.18" >Africa</text>
<polygon points="204.00,58.50 204.00,54.60 206.20,54.60 206.20,56.00 208.10,56.00 208.10,57.00 212.40,57.00 212.40,57.70 216.30,57.70 216.30,57.90 252.00,57.90 252.00,58.50" fill="#b3203c" stroke="none"/>
<line x1="200.50" y1="58.50" x2="252.30" y2="58.50" stroke="#8c8c8c" stroke-width="0.8"/>
<line x1="200.50" y1="19.40" x2="252.30" y2="19.40" stroke="#8c8c8c" stroke-width="0.8"/>
<line x1="200.50" y1="19.40" x2="200.50" y2="61.10" stroke="#555" stroke-width="0.7"/>
<line x1="197.90" y1="58.00" x2="200.50" y2="58.00" stroke="#555" stroke-width="0.6"/>
<text x="196.50" y="60.00" font-size="5.8" text-anchor="end" font-weight="normal" fill="#262626" stroke="#262626" stroke-width="0.18" >0</text>
<line x1="197.90" y1="46.30" x2="200.50" y2="46.30" stroke="#555" stroke-width="0.6"/>
<text x="196.50" y="48.30" font-size="5.8" text-anchor="end" font-weight="normal" fill="#262626" stroke="#262626" stroke-width="0.18" >1,000</text>
<line x1="197.90" y1="34.60" x2="200.50" y2="34.60" stroke="#555" stroke-width="0.6"/>
<text x="196.50" y="36.60" font-size="5.8" text-anchor="end" font-weight="normal" fill="#262626" stroke="#262626" stroke-width="0.18" >2,000</text>
<line x1="197.90" y1="22.90" x2="200.50" y2="22.90" stroke="#555" stroke-width="0.6"/>
<text x="196.50" y="24.90" font-size="5.8" text-anchor="end" font-weight="normal" fill="#262626" stroke="#262626" stroke-width="0.18" >3,000</text>
<text x="284.30" y="16.80" font-size="5.8" text-anchor="middle" font-weight="normal" fill="#1a1a1a" stroke="#1a1a1a" stroke-width="0.18" >Asia</text>
<polygon points="261.80,58.80 261.80,41.50 263.40,41.50 263.40,40.00 264.70,40.00 264.70,45.10 266.00,45.10 266.00,49.90 267.30,49.90 267.30,53.10 268.80,53.10 268.80,55.60 270.70,55.60 270.70,56.90 274.00,56.90 274.00,58.00 277.80,58.00 277.80,58.40 290.00,58.40 290.00,58.80" fill="#4a78ba" stroke="none"/>
<line x1="258.40" y1="58.80" x2="310.20" y2="58.80" stroke="#8c8c8c" stroke-width="0.8"/>
<line x1="258.40" y1="19.40" x2="310.20" y2="19.40" stroke="#8c8c8c" stroke-width="0.8"/>
<text x="226.40" y="70.20" font-size="5.8" text-anchor="middle" font-weight="normal" fill="#1a1a1a" stroke="#1a1a1a" stroke-width="0.18" >Europe</text>
<polygon points="204.20,115.20 204.20,100.90 206.00,100.90 206.00,100.30 207.00,100.30 207.00,104.70 208.30,104.70 208.30,108.60 209.80,108.60 209.80,111.20 211.50,111.20 211.50,112.80 213.40,112.80 213.40,114.10 216.60,114.10 216.60,114.70 230.00,114.70 230.00,115.20" fill="#68ab46" stroke="none"/>
<line x1="200.50" y1="115.20" x2="252.30" y2="115.20" stroke="#8c8c8c" stroke-width="0.8"/>
<line x1="200.50" y1="72.80" x2="252.30" y2="72.80" stroke="#8c8c8c" stroke-width="0.8"/>
<line x1="200.50" y1="72.80" x2="200.50" y2="117.80" stroke="#555" stroke-width="0.7"/>
<line x1="197.90" y1="115.30" x2="200.50" y2="115.30" stroke="#555" stroke-width="0.6"/>
<text x="196.50" y="117.30" font-size="5.8" text-anchor="end" font-weight="normal" fill="#262626" stroke="#262626" stroke-width="0.18" >0</text>
<line x1="197.90" y1="103.40" x2="200.50" y2="103.40" stroke="#555" stroke-width="0.6"/>
<text x="196.50" y="105.40" font-size="5.8" text-anchor="end" font-weight="normal" fill="#262626" stroke="#262626" stroke-width="0.18" >1,000</text>
<line x1="197.90" y1="91.50" x2="200.50" y2="91.50" stroke="#555" stroke-width="0.6"/>
<text x="196.50" y="93.50" font-size="5.8" text-anchor="end" font-weight="normal" fill="#262626" stroke="#262626" stroke-width="0.18" >2,000</text>
<line x1="197.90" y1="79.60" x2="200.50" y2="79.60" stroke="#555" stroke-width="0.6"/>
<text x="196.50" y="81.60" font-size="5.8" text-anchor="end" font-weight="normal" fill="#262626" stroke="#262626" stroke-width="0.18" >3,000</text>
<line x1="210.70" y1="115.20" x2="210.70" y2="117.20" stroke="#555" stroke-width="0.6"/>
<text x="210.70" y="124.80" font-size="5.8" text-anchor="middle" font-weight="normal" fill="#262626" stroke="#262626" stroke-width="0.18" >4</text>
<line x1="224.25" y1="115.20" x2="224.25" y2="117.20" stroke="#555" stroke-width="0.6"/>
<text x="224.25" y="124.80" font-size="5.8" text-anchor="middle" font-weight="normal" fill="#262626" stroke="#262626" stroke-width="0.18" >8</text>
<line x1="237.80" y1="115.20" x2="237.80" y2="117.20" stroke="#555" stroke-width="0.6"/>
<text x="237.80" y="124.80" font-size="5.8" text-anchor="middle" font-weight="normal" fill="#262626" stroke="#262626" stroke-width="0.18" >12</text>
<line x1="251.35" y1="115.20" x2="251.35" y2="117.20" stroke="#555" stroke-width="0.6"/>
<text x="251.35" y="124.80" font-size="5.8" text-anchor="middle" font-weight="normal" fill="#262626" stroke="#262626" stroke-width="0.18" >16</text>
<text x="284.30" y="70.20" font-size="5.8" text-anchor="middle" font-weight="normal" fill="#1a1a1a" stroke="#1a1a1a" stroke-width="0.18" >GME</text>
<polygon points="262.10,115.00 262.10,72.80 264.70,72.80 264.70,76.30 266.20,76.30 266.20,81.70 268.00,81.70 268.00,89.30 269.70,89.30 269.70,98.00 271.20,98.00 271.20,103.50 272.90,103.50 272.90,106.00 274.40,106.00 274.40,108.30 276.60,108.30 276.60,110.00 279.80,110.00 279.80,111.70 286.40,111.70 286.40,112.90 303.80,112.90 303.80,113.60 305.60,113.60 305.60,89.30 307.10,89.30 307.10,115.00" fill="#773898" stroke="none"/>
<line x1="258.40" y1="115.00" x2="310.20" y2="115.00" stroke="#8c8c8c" stroke-width="0.8"/>
<line x1="258.40" y1="72.80" x2="310.20" y2="72.80" stroke="#8c8c8c" stroke-width="0.8"/>
<line x1="268.60" y1="115.00" x2="268.60" y2="117.00" stroke="#555" stroke-width="0.6"/>
<text x="268.60" y="124.60" font-size="5.8" text-anchor="middle" font-weight="normal" fill="#262626" stroke="#262626" stroke-width="0.18" >4</text>
<line x1="282.15" y1="115.00" x2="282.15" y2="117.00" stroke="#555" stroke-width="0.6"/>
<text x="282.15" y="124.60" font-size="5.8" text-anchor="middle" font-weight="normal" fill="#262626" stroke="#262626" stroke-width="0.18" >8</text>
<line x1="295.70" y1="115.00" x2="295.70" y2="117.00" stroke="#555" stroke-width="0.6"/>
<text x="295.70" y="124.60" font-size="5.8" text-anchor="middle" font-weight="normal" fill="#262626" stroke="#262626" stroke-width="0.18" >12</text>
<line x1="309.25" y1="115.00" x2="309.25" y2="117.00" stroke="#555" stroke-width="0.6"/>
<text x="309.25" y="124.60" font-size="5.8" text-anchor="middle" font-weight="normal" fill="#262626" stroke="#262626" stroke-width="0.18" >16</text>
<text x="306.2" y="89.4" font-size="5.5" text-anchor="middle" font-weight="normal" fill="#1a1a1a" stroke="#1a1a1a" stroke-width="0.18" >*</text>
<text x="175.8" y="156.7" font-size="11" text-anchor="start" font-weight="bold" fill="#111" >c</text>
<line x1="200.6" y1="257.0" x2="305.0" y2="257.0" stroke="#8a8a8a" stroke-width="0.9"/>
<line x1="200.6" y1="156.0" x2="200.6" y2="257.4" stroke="#555" stroke-width="0.8"/>
<line x1="197.7" y1="165.1" x2="200.6" y2="165.1" stroke="#444" stroke-width="0.8"/>
<text x="196.2" y="167.10" font-size="5.8" text-anchor="end" font-weight="normal" fill="#262626" stroke="#262626" stroke-width="0.18" >0.04</text>
<line x1="197.7" y1="195.6" x2="200.6" y2="195.6" stroke="#444" stroke-width="0.8"/>
<text x="196.2" y="197.60" font-size="5.8" text-anchor="end" font-weight="normal" fill="#262626" stroke="#262626" stroke-width="0.18" >0.03</text>
<line x1="197.7" y1="226.4" x2="200.6" y2="226.4" stroke="#444" stroke-width="0.8"/>
<text x="196.2" y="228.40" font-size="5.8" text-anchor="end" font-weight="normal" fill="#262626" stroke="#262626" stroke-width="0.18" >0.02</text>
<text x="196.2" y="258.90" font-size="5.8" text-anchor="end" font-weight="normal" fill="#262626" stroke="#262626" stroke-width="0.18" >0</text>
<line x1="200.9" y1="257.0" x2="200.9" y2="258.9" stroke="#666" stroke-width="0.6"/>
<text x="200.9" y="266.4" font-size="5.8" text-anchor="middle" font-weight="normal" fill="#262626" stroke="#262626" stroke-width="0.18" >0</text>
<line x1="225.6" y1="257.0" x2="225.6" y2="258.9" stroke="#666" stroke-width="0.6"/>
<text x="225.6" y="266.4" font-size="5.8" text-anchor="middle" font-weight="normal" fill="#262626" stroke="#262626" stroke-width="0.18" >5</text>
<line x1="254.2" y1="257.0" x2="254.2" y2="258.9" stroke="#666" stroke-width="0.6"/>
<text x="254.2" y="266.4" font-size="5.8" text-anchor="middle" font-weight="normal" fill="#262626" stroke="#262626" stroke-width="0.18" >10</text>
<line x1="282.0" y1="257.0" x2="282.0" y2="258.9" stroke="#666" stroke-width="0.6"/>
<text x="282.0" y="266.4" font-size="5.8" text-anchor="middle" font-weight="normal" fill="#262626" stroke="#262626" stroke-width="0.18" >15</text>
<text x="252.7" y="274.4" font-size="5.8" text-anchor="middle" font-weight="normal" fill="#262626" stroke="#262626" stroke-width="0.18" >ROH length (Mb)</text>
<text x="178.6" y="207.0" font-size="5.8" text-anchor="middle" font-weight="normal" fill="#262626" stroke="#262626" stroke-width="0.18" transform="rotate(-90 178.6 207.0)">Probability density function</text>
<polyline points="200.8,171.5 202.5,179.2 203.8,183.7 206.3,185.6 209.5,190.8 212.7,191.4 214.7,192.6 217.2,197 219.2,196.4 220.4,199.6 222.4,202.2 225.6,199.6 228.1,204.1 231.3,202.2 235.2,209.2 238,212.4 241.8,208.6 245.6,213.7 248.8,206 251.4,215.6 255.2,212.4 257.8,210.5 262,213.4 265.2,217.2 267.7,214 270.2,212.8 271.5,215.3 273.6,241.3 276.2,225.3 277.9,217.6 280.4,213.8 282.3,212.8 287,204.8 289.6,208.4 292.1,212.2 294.7,215.4 296.8,221.5 299.2,213.2 301.6,206.5 304.2,209" fill="none" stroke="#cc3038" stroke-width="1.0" stroke-linejoin="round"/>
<polyline points="200.6,227 203.1,225.8 205.7,222.6 207.6,215.6 210.8,205.4 212.1,199.6 214,204.1 216.6,197.7 220.4,195.1 223.6,190.2 226.3,183.2 228.1,187.2 229.4,186.2 231.5,195 234.5,199.5 238.3,194 242.1,193.5 245.4,201.6 248.1,184.2 250.8,194.6 253.3,205.4 255.2,209.2 257.2,204.1 260.2,210 262,216.6 263.9,214.7 267.7,206.5 269.6,212.2 271.5,214.7 274,209.6 276.2,205 278.5,201.4 280.4,202.7 282.9,210.9 285.4,214.7 288,222.7 290.6,213.8 293.7,239.1 296.5,193.4 298.5,219.5 302,239.7 304.5,229" fill="none" stroke="#5580c0" stroke-width="1.0" stroke-linejoin="round"/>
<polyline points="200.6,252 203.1,250.8 207,243 210.2,234.1 212.7,225.1 214,220.1 216,222 218.5,215.6 221.1,202.8 223.6,200.3 226,200.5 228.1,199 229.4,196.4 231.6,176.6 234,198 238.3,193 242.1,193.5 245.6,206 248.8,197 252,198.3 255.2,200.3 257.2,195 259.5,175.1 261,195 262,210.9 264.5,209.5 267.7,205.8 271.5,206.5 274,210.9 275.9,224.2 278.5,191.3 279.3,190.2 280.4,200.1 282.3,214 284.8,209 286.2,196 287.7,176.4 290.3,217 291.2,220.5 296.5,161.3 301,214.1 303.2,222.7 305.1,216.3" fill="none" stroke="#6eab4a" stroke-width="1.0" stroke-linejoin="round"/>
<line x1="259.3" y1="146.4" x2="264.4" y2="146.4" stroke="#cc3038" stroke-width="0.9"/>
<text x="266.0" y="148.50" font-size="6.0" text-anchor="start" font-weight="normal" fill="#1a1a1a" stroke="#1a1a1a" stroke-width="0.18" >Common</text>
<line x1="259.3" y1="152.20000000000002" x2="264.4" y2="152.20000000000002" stroke="#5580c0" stroke-width="0.9"/>
<text x="266.0" y="154.30" font-size="6.0" text-anchor="start" font-weight="normal" fill="#1a1a1a" stroke="#1a1a1a" stroke-width="0.18" >Rare</text>
<line x1="259.3" y1="158.0" x2="264.4" y2="158.0" stroke="#6eab4a" stroke-width="0.9"/>
<text x="266.0" y="160.10" font-size="6.0" text-anchor="start" font-weight="normal" fill="#1a1a1a" stroke="#1a1a1a" stroke-width="0.18" >Very rare</text>
</svg>
</body></html>
